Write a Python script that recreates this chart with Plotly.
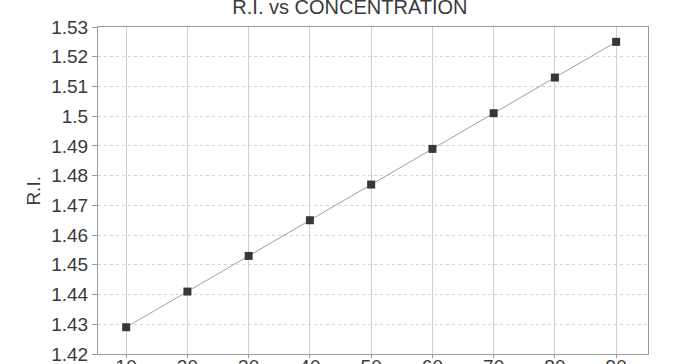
import plotly.graph_objects as go

concentration = [10, 20, 30, 40, 50, 60, 70, 80, 90]
ri = [1.429, 1.441, 1.453, 1.465, 1.477, 1.489, 1.501, 1.513, 1.525]
y_ticks = [1.42, 1.43, 1.44, 1.45, 1.46, 1.47, 1.48, 1.49, 1.5, 1.51, 1.52, 1.53]
y_tick_text = ["1.42", "1.43", "1.44", "1.45", "1.46", "1.47", "1.48", "1.49", "1.5", "1.51", "1.52", "1.53"]

font_family = "Liberation Sans, Arial, sans-serif"
text_color = "#3a3a3a"

fig = go.Figure()
fig.add_trace(go.Scatter(
    x=concentration, y=ri, mode="lines+markers",
    line=dict(color="#a0a0a0", width=1),
    marker=dict(symbol="square", size=8, color="#3b3631"),
    showlegend=False,
))

fig.update_layout(
    width=693, height=364,
    margin=dict(l=98, r=45, t=27, b=10, autoexpand=False),
    paper_bgcolor="white", plot_bgcolor="white",
    font=dict(family=font_family, color=text_color, size=19),
    title=dict(text="R.I. vs CONCENTRATION", x=0.505, xanchor="center",
               y=1.0, yanchor="top", font=dict(size=20, color=text_color)),
)
fig.add_annotation(
    text="R.I.", xref="paper", yref="paper", x=-0.118, y=0.5,
    xanchor="center", yanchor="middle", textangle=-90, showarrow=False,
    font=dict(size=19, color=text_color),
)
fig.update_xaxes(
    range=[5.4, 95.2], tickvals=concentration, automargin=False,
    ticklabeloverflow="allow", ticklabelstandoff=-8,
    showgrid=True, gridcolor="#cfcfcf", gridwidth=1,
    showline=True, linecolor="#9a9a9a", linewidth=1, mirror=True,
    ticks="outside", ticklen=3, tickcolor="#9a9a9a",
    tickfont=dict(size=19, color=text_color), zeroline=False,
)
fig.update_yaxes(
    range=[1.42, 1.53], tickvals=y_ticks, ticktext=y_tick_text, automargin=False,
    ticklabeloverflow="allow",
    showgrid=True, gridcolor="#d4d4d4", gridwidth=1, griddash="dot",
    showline=True, linecolor="#9a9a9a", linewidth=1, mirror=True,
    ticks="outside", ticklen=5, tickcolor="#9a9a9a",
    tickfont=dict(size=19, color=text_color), zeroline=False,
)

fig.write_html("out.html")
